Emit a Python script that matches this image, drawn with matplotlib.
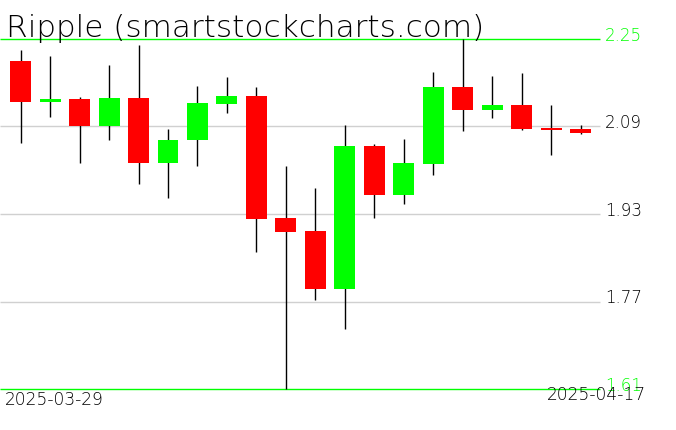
import numpy as np
import matplotlib
matplotlib.use("Agg")
import matplotlib.pyplot as plt

# data
dates = ["2025-03-29", "2025-03-30", "2025-03-31", "2025-04-01", "2025-04-02",
         "2025-04-03", "2025-04-04", "2025-04-05", "2025-04-06", "2025-04-07",
         "2025-04-08", "2025-04-09", "2025-04-10", "2025-04-11", "2025-04-12",
         "2025-04-13", "2025-04-14", "2025-04-15", "2025-04-16", "2025-04-17"]
opens = [2.210, 2.135, 2.141, 2.090, 2.142, 2.024, 2.066, 2.132, 2.146, 1.923,
         1.899, 1.793, 2.054, 1.965, 2.022, 2.162, 2.121, 2.129, 2.088, 2.085]
highs = [2.229, 2.219, 2.144, 2.203, 2.239, 2.085, 2.164, 2.181, 2.162, 2.018,
         1.978, 2.093, 2.058, 2.067, 2.190, 2.250, 2.182, 2.188, 2.129, 2.092]
lows = [2.060, 2.108, 2.023, 2.066, 1.985, 1.960, 2.017, 2.115, 1.860, 1.610,
        1.773, 1.719, 1.922, 1.948, 2.002, 2.081, 2.105, 2.084, 2.037, 2.077]
closes = [2.135, 2.141, 2.091, 2.142, 2.024, 2.065, 2.133, 2.146, 1.921, 1.898,
          1.793, 2.054, 1.965, 2.023, 2.162, 2.121, 2.129, 2.086, 2.084, 2.079]
ytick_vals = [2.25, 2.09, 1.93, 1.77, 1.61]
title = "Ripple (smartstockcharts.com)"

RED = "#ff0000"
GREEN = "#00ff00"

fig = plt.figure(figsize=(6.76, 4.31), dpi=100)
ax = fig.add_axes([0, 0, 1, 1])
ax.set_axis_off()

# pixel calibration: candle i centred at 20.7 + 29.47*i px, price 2.25 at y=40, 1.61 at y=390
x_left, x_right = -0.702, 22.24
y_top, y_bottom = 2.3231, 1.5351
ax.set_xlim(x_left, x_right)
ax.set_ylim(y_bottom, y_top)

line_end = 19.66
for v in ytick_vals:
    edge = v in (max(ytick_vals), min(ytick_vals))
    ax.hlines(v, x_left, line_end, color=GREEN if edge else "#d0d0d0",
              linewidth=1.0, zorder=1)
    ax.text(19.83, v + 0.0075, f"{v:.2f}", color=GREEN if edge else "black",
            fontsize=12, fontweight="light", va="center", ha="left", zorder=3)

x = np.arange(len(dates))
o = np.array(opens)
c = np.array(closes)
up = c >= o
ax.vlines(x, lows, highs, color="black", linewidth=1.0, zorder=2)
ax.bar(x, np.abs(c - o), bottom=np.minimum(o, c), width=0.71,
       color=np.where(up, GREEN, RED), zorder=2.5)

fig.text(6 / 676, 1 - 37 / 431, title, fontsize=22.4, fontweight="light",
         va="baseline", ha="left", color="black")
fig.text(5 / 676, 1 - 400 / 431, dates[0], fontsize=12.3, fontweight="light",
         va="center", ha="left")
fig.text(646 / 676, 1 - 395 / 431, dates[-1], fontsize=12.3, fontweight="light",
         va="center", ha="right")

fig.savefig("out.png", dpi=100)
